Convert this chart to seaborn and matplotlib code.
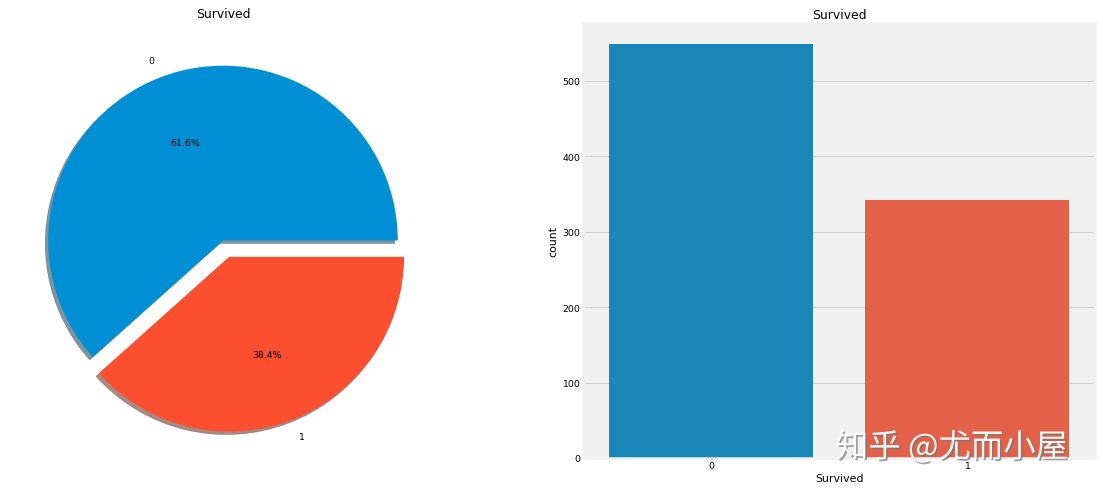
import matplotlib
matplotlib.use("Agg")
import matplotlib.pyplot as plt
import matplotlib.patheffects as pe
import seaborn as sns

# Survived counts (0 = died, 1 = survived)
categories = ["0", "1"]
counts = [549, 342]
pie_colors = ["#008fd5", "#fc4f30"]
explode = [0, 0.1]

plt.style.use("fivethirtyeight")
plt.rcParams["figure.facecolor"] = "white"
plt.rcParams["savefig.facecolor"] = "white"

dpi = 1103 / 18
fig, ax = plt.subplots(1, 2, figsize=(18, 496 / dpi), dpi=dpi)

# pie
ax[0].pie(counts, labels=categories, explode=explode, autopct="%1.1f%%",
          shadow=True, colors=pie_colors, textprops={"fontsize": 11})
ax[0].set_title("Survived")
ax[0].set_ylabel("")
ax[0].set_position([4 / 1103, 0.0726, 438 / 1103, 0.881])

# count bars
bar_palette = sns.color_palette(pie_colors, desat=0.75)
sns.barplot(x=categories, y=counts, hue=categories, palette=bar_palette,
            legend=False, ax=ax[1], width=0.8, saturation=1)
ax[1].set_title("Survived")
ax[1].set_xlabel("Survived")
ax[1].set_ylabel("count")
ax[1].set_ylim(0, max(counts) * 1.05)
ax[1].set_yticks([0, 100, 200, 300, 400, 500])
ax[1].tick_params(labelsize=11)
ax[1].xaxis.label.set_size(13)
ax[1].yaxis.label.set_size(13)
ax[1].set_position([583 / 1103, 0.0746, 512 / 1103, 0.877])

for a in ax:
    a.title.set_size(14.5)

# watermark
fig.text(836 / 1103, 1 - 458 / 496, "知乎 @尤而小屋", color="white",
         fontsize=38, family=["Noto Sans CJK SC", "DejaVu Sans"],
         ha="left", va="baseline", alpha=0.95,
         path_effects=[pe.withSimplePatchShadow(offset=(2, -2), shadow_rgbFace="#777777", alpha=0.7)])

fig.savefig("out.png", dpi=dpi)
